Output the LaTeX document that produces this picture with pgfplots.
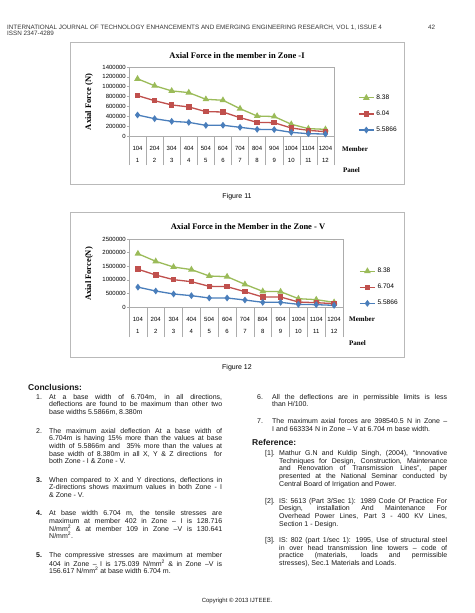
\documentclass[border=0pt]{standalone}
\usepackage{fontspec}
\setmainfont{Liberation Sans}
\newfontfamily\tnr{Liberation Serif}
\usepackage{pgfplots}
\usepackage{pgfplotstable}
\pgfplotsset{compat=1.18}
\tolerance=9999
\hbadness=10000

\definecolor{cg}{RGB}{155,187,89}
\definecolor{cr}{RGB}{192,80,77}
\definecolor{cb}{RGB}{74,126,187}

\newcommand\body{\fontsize{7}{7.6}\selectfont}
\newcommand\fl{\rule{0pt}{5pt}}
\newcommand\sq{N/mm\textsuperscript{2}}

% Zone I, axial force (N) per panel
\pgfplotstableread{
p g r b
1 1160000 820000 426000
2 1020000 716000 351000
3 915000 630000 297000
4 880000 590000 277000
5 745000 495000 216000
6 725000 487000 218000
7 555000 372000 176000
8 405000 277000 135000
9 395000 270000 130000
10 238000 162000 74000
11 150000 115000 47000
12 135000 88000 40000
}\zoneI

% Zone V
\pgfplotstableread{
p g r b
1 1960000 1390000 730000
2 1680000 1176000 588000
3 1470000 1005000 478000
4 1375000 931000 417000
5 1140000 760000 331000
6 1115000 748000 331000
7 833000 564000 257000
8 576000 368000 172000
9 564000 368000 172000
10 306000 184000 98000
11 270000 159000 86000
12 172000 123000 61000
}\zoneV

\pgfplotsset{
  excelax/.style={
    scale only axis, anchor=south west,
    xmin=0.5, xmax=12.5, ymin=0,
    tick pos=left, tick align=outside,
    major tick length=2pt, minor tick length=29pt,
    axis line style={draw=gray!65, line width=0.5pt},
    every tick/.style={draw=gray!65, line width=0.5pt},
    major x tick style={draw=none},
    xtick={1,...,12},
    minor xtick={0.5,1.5,...,12.5},
    xticklabels={{104\\1},{204\\2},{304\\3},{404\\4},{504\\5},{604\\6},
      {704\\7},{804\\8},{904\\9},{1004\\10},{1104\\11},{1204\\12}},
    xticklabel style={align=center, font=\fontsize{6}{11.7}\selectfont, inner sep=0pt, yshift=-8.5pt},
    yticklabel style={font=\fontsize{6}{6.5}\selectfont, inner sep=1pt},
    /pgf/number format/assume math mode=true,
    /pgf/number format/fixed, /pgf/number format/1000 sep={},
    scaled y ticks=false,
    legend style={draw=none, fill=none, font=\fontsize{6.6}{7}\selectfont,
      row sep=6pt, inner sep=0pt},
    legend cell align=left,
    legend image code/.code={\draw[mark repeat=2,mark phase=2,##1]
      plot coordinates {(0pt,0pt) (7.5pt,0pt) (15pt,0pt)};},
  },
  sg/.style={line width=1.3pt, color=cg, mark=triangle*, mark size=2.6pt, mark options={solid}},
  sr/.style={line width=1.3pt, color=cr, mark=square*, mark size=2.1pt, mark options={solid}},
  sb/.style={line width=1.3pt, color=cb, mark=diamond*, mark size=2.4pt, mark options={solid}},
}

\begin{document}
\begin{tikzpicture}
\path[use as bounding box, fill=white] (0,0) rectangle (474pt,-613pt);

% page header
\node[anchor=base west, inner sep=0pt, font=\fontsize{6.3}{7}\selectfont, text=black!80] at (7pt,-29pt)
  {INTERNATIONAL JOURNAL OF TECHNOLOGY ENHANCEMENTS AND EMERGING ENGINEERING RESEARCH, VOL 1, ISSUE 4};
\node[anchor=base west, inner sep=0pt, font=\fontsize{6.3}{7}\selectfont, text=black!80] at (428pt,-29pt) {42};
\node[anchor=base west, inner sep=0pt, font=\fontsize{6.3}{7}\selectfont, text=black!80] at (7pt,-35.5pt) {ISSN 2347-4289};

% ---------- Figure 11 ----------
\draw[gray!55, line width=0.6pt] (70pt,-42pt) rectangle (404pt,-184pt);
\node[font=\tnr\bfseries\fontsize{8.5}{9}\selectfont] at (237pt,-56pt) {Axial Force in the member in Zone -I};
\node[rotate=90, font=\tnr\bfseries\fontsize{8.5}{9}\selectfont] at (89pt,-102pt) {Axial Force (N)};
\begin{axis}[excelax, at={(129pt,-136pt)}, width=205pt, height=69pt,
  ymax=1400000, ytick={0,200000,400000,600000,800000,1000000,1200000,1400000},
  legend style={at={(1.117,0.32)}, anchor=west}]
\addplot[sg] table[x=p, y=g] {\zoneI};
\addplot[sr] table[x=p, y=r] {\zoneI};
\addplot[sb] table[x=p, y=b] {\zoneI};
\legend{8.38,6.04,5.5866}
\end{axis}
\node[anchor=west, inner sep=0pt, font=\tnr\bfseries\fontsize{7}{8}\selectfont] at (342pt,-149pt) {Member};
\node[anchor=west, inner sep=0pt, font=\tnr\bfseries\fontsize{7}{8}\selectfont] at (343pt,-170pt) {Panel};
\node[anchor=base, inner sep=0pt, font=\body] at (237pt,-198pt) {Figure 11};

% ---------- Figure 12 ----------
\draw[gray!55, line width=0.6pt] (70pt,-212pt) rectangle (404pt,-357pt);
\node[font=\tnr\bfseries\fontsize{8.5}{9}\selectfont] at (248pt,-227pt) {Axial Force in the Member in the Zone - V};
\node[rotate=90, font=\tnr\bfseries\fontsize{8.5}{9}\selectfont] at (89pt,-274pt) {Axial Force(N)};
\begin{axis}[excelax, at={(129pt,-307pt)}, width=214pt, height=68pt,
  minor tick length=30pt,
  ymax=2500000, ytick={0,500000,1000000,1500000,2000000,2500000},
  legend style={at={(1.075,0.29)}, anchor=west}]
\addplot[sg] table[x=p, y=g] {\zoneV};
\addplot[sr] table[x=p, y=r] {\zoneV};
\addplot[sb] table[x=p, y=b] {\zoneV};
\legend{8.38,6.704,5.5866}
\end{axis}
\node[anchor=west, inner sep=0pt, font=\tnr\bfseries\fontsize{7}{8}\selectfont] at (349pt,-319pt) {Member};
\node[anchor=west, inner sep=0pt, font=\tnr\bfseries\fontsize{7}{8}\selectfont] at (349pt,-343pt) {Panel};
\node[anchor=base, inner sep=0pt, font=\body] at (237pt,-369pt) {Figure 12};

% ---------- left column ----------
\begin{scope}[every node/.style={inner sep=0pt, font=\body, text=black!90}]
\node[anchor=base west, font=\bfseries\fontsize{8.5}{9}\selectfont] at (28pt,-390pt) {Conclusions:};
\node[anchor=base west] at (36pt,-399pt) {1.};
\node[anchor=north west, text width=173pt, align=justify] at (49pt,-394pt)
  {\fl At a base width of 6.704m, in all directions,\linebreak
   deflections are found to be maximum than other two\linebreak
   base widths 5.5866m, 8.380m};
\node[anchor=base west] at (36pt,-433pt) {2.};
\node[anchor=north west, text width=173pt, align=justify] at (49pt,-428pt)
  {\fl The maximum axial deflection At a base width of\linebreak
   6.704m is having 15\% more than the values at base\linebreak
   width of 5.5866m and\ \ 35\% more than the values at\linebreak
   base width of 8.380m in all X, Y \& Z directions\ \ for\linebreak
   both Zone - I \& Zone - V.};
\node[anchor=base west, font=\body\bfseries] at (36pt,-482pt) {3.};
\node[anchor=north west, text width=173pt, align=justify] at (49pt,-477pt)
  {\fl When compared to X and Y directions, deflections in\linebreak
   Z-directions shows maximum values in both Zone - I\linebreak
   \& Zone - V.};
\node[anchor=base west, font=\body\bfseries] at (36pt,-515.6pt) {4.};
\node[anchor=north west, text width=173pt, align=justify] at (49pt,-510.6pt)
  {\fl At base width 6.704 m, the tensile stresses are\linebreak
   maximum at member 402 in Zone -- I is 128.716\linebreak
   \sq{} \& at member 109 in Zone --V is 130.641\linebreak
   \sq.};
\node[anchor=base west, font=\body\bfseries] at (36pt,-557pt) {5.};
\node[anchor=north west, text width=173pt, align=justify] at (49pt,-552pt)
  {\fl The compressive stresses are maximum at member\linebreak
   404 in Zone -- I is 175.039 \sq{} \& in Zone --V is\linebreak
   156.617 \sq{} at base width 6.704 m.};

% ---------- right column ----------
\node[anchor=base west] at (257pt,-399pt) {6.};
\node[anchor=north west, text width=175pt, align=justify] at (272pt,-394pt)
  {\fl All the deflections are in permissible limits is less\linebreak
   than H/100.};
\node[anchor=base west] at (257pt,-423.5pt) {7.};
\node[anchor=north west, text width=175pt, align=justify] at (272pt,-418.5pt)
  {\fl The maximum axial forces are 398540.5 N in Zone --\linebreak
   I and 663334 N in Zone -- V at 6.704 m base width.};
\node[anchor=base west, font=\bfseries\fontsize{8.5}{9}\selectfont] at (252pt,-445pt) {Reference:};
\node[anchor=base west] at (265pt,-455.5pt) {[1].};
\node[anchor=north west, text width=168pt, align=justify] at (279pt,-450.5pt)
  {\fl Mathur G.N and Kuldip Singh, (2004), “Innovative\linebreak
   Techniques for Design, Construction, Maintenance\linebreak
   and Renovation of Transmission Lines”, paper\linebreak
   presented at the National Seminar conducted by\linebreak
   Central Board of Irrigation and Power.};
\node[anchor=base west] at (265pt,-503pt) {[2].};
\node[anchor=north west, text width=168pt, align=justify] at (279pt,-498pt)
  {\fl IS: 5613 (Part 3/Sec 1): 1989 Code Of Practice For\linebreak
   Design, installation And Maintenance For\linebreak
   Overhead Power Lines, Part 3 - 400 KV Lines,\linebreak
   Section 1 - Design.};
\node[anchor=base west] at (265pt,-542.5pt) {[3].};
\node[anchor=north west, text width=168pt, align=justify] at (279pt,-537.5pt)
  {\fl IS: 802 (part 1/sec 1): 1995, Use of structural steel\linebreak
   in over head transmission line towers -- code of\linebreak
   practice (materials, loads and permissible\linebreak
   stresses), Sec.1 Materials and Loads.};

\node[anchor=base, font=\fontsize{6}{7}\selectfont] at (237pt,-602pt) {Copyright © 2013 IJTEEE.};
\end{scope}
\end{tikzpicture}
\end{document}
